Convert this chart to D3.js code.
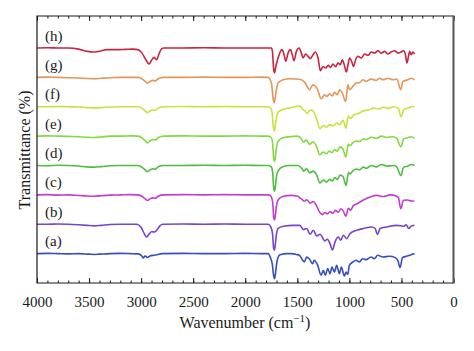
<!DOCTYPE html>
<html>
<head>
<meta charset="utf-8">
<script src="https://cdn.jsdelivr.net/npm/d3@7"></script>
<style>
body { margin: 0; background: #fff; }
svg text { font-family: "Liberation Serif", "Times New Roman", serif; fill: #1a1a1a; }
</style>
</head>
<body>
<svg id="chart" width="474" height="351"></svg>
<script>
// x ticks (cm-1), labels of the samples, and vertical offset of each trace
const majorTicks = [4000, 3500, 3000, 2500, 2000, 1500, 1000, 500, 0];
const minorTicks = d3.range(0, 4001, 100);
const sampleLabels = ["(a)", "(b)", "(c)", "(d)", "(e)", "(f)", "(g)", "(h)"];
const traceOffsets = [11, 22, 33, 44, 55, 66, 77, 88];
const traceColors = ["#3550bd", "#7446cc", "#c43ccf", "#4cbe3e", "#84d93f", "#c9e23c", "#e3955a", "#c9253f"];

// each spectrum: [wavenumber, change of transmittance from its baseline]
const spectrumA = [[4000,0],[3900,0.1],[3800,0],[3700,-0.1],[3600,0],[3500,-0.2],[3450,-0.3],[3400,-0.2],[3300,0],[3200,0.1],[3100,0],[3030,-0.1],[2995,-0.8],[2980,-1.6],[2962,-0.9],[2940,-1.4],[2915,-0.9],[2880,-0.6],[2845,-0.4],[2800,0],[2600,0.1],[2400,0],[2200,0],[2000,0.1],[1850,0],[1780,0],[1760,-1.3],[1740,-4],[1726,-8.6],[1718,-9.4],[1710,-7.5],[1700,-4.2],[1690,-2],[1665,-0.4],[1600,0],[1560,0],[1510,-0.3],[1480,-0.6],[1449,-2.5],[1433,-3.1],[1410,-1.3],[1385,-1.9],[1353,-3.75],[1337,-2.5],[1304,-4.4],[1272,-8.1],[1250,-6.25],[1231,-8.1],[1208,-5.6],[1186,-7.5],[1167,-5],[1144,-6.9],[1122,-4.4],[1096,-7.5],[1077,-5],[1048,-8.4],[1032,-6.9],[1016,-7.8],[1000,-4.4],[968,-3.2],[936,-2.5],[904,-3.1],[872,-1.9],[840,-2.25],[792,-1.25],[760,-1.9],[728,-0.6],[679,-1.25],[615,-1],[560,-1.5],[535,-2.5],[513,-5.2],[490,-1.5],[455,-1],[415,-0.5],[375,0]];
const spectrumB = [[4000,0],[3900,0],[3800,0.1],[3700,0],[3600,-0.2],[3520,-0.4],[3450,-0.6],[3380,-0.4],[3300,-0.1],[3200,0],[3100,0],[3040,0],[3000,-1.2],[2970,-3.5],[2948,-4.75],[2925,-3.8],[2900,-2.8],[2870,-2.9],[2845,-2],[2820,-0.6],[2790,0],[2600,0.1],[2400,0],[2200,0.1],[2000,0],[1850,0],[1780,0],[1755,-1],[1738,-3.5],[1728,-8.8],[1720,-9.75],[1712,-7.8],[1702,-4.2],[1685,-1.5],[1635,-0.75],[1540,-0.4],[1475,-0.4],[1442,-2],[1410,-1.6],[1378,-3.75],[1346,-2.25],[1314,-4.4],[1282,-3.75],[1234,-6.25],[1211,-5.6],[1186,-7.25],[1162,-9.6],[1138,-6.6],[1106,-4.75],[1083,-6],[1058,-4.1],[1026,-5.4],[994,-3.5],[930,-2.25],[866,-1.6],[785,-1],[753,-1.6],[730,-3.8],[705,-1.6],[641,-1],[545,-0.4],[481,-0.75],[455,-0.2],[430,-1.6],[410,-0.8],[375,-0.4]];
const spectrumC = [[4000,0],[3900,0.1],[3800,-0.1],[3700,0],[3600,-0.2],[3520,-0.4],[3450,-0.5],[3380,-0.3],[3300,-0.1],[3200,0],[3100,0.1],[3030,0],[2990,-0.6],[2960,-1.5],[2940,-2.1],[2915,-1.5],[2890,-1.1],[2865,-1.3],[2840,-0.6],[2810,-0.1],[2780,0],[2600,0.1],[2400,0],[2200,0.1],[2000,0],[1850,0],[1775,0],[1752,-0.6],[1737,-2.6],[1726,-8.5],[1718,-9.4],[1710,-7.4],[1700,-4],[1684,-1.9],[1640,-0.6],[1560,-0.2],[1500,-0.4],[1472,-1.25],[1450,-1.9],[1434,-2.4],[1410,-1.8],[1378,-3.1],[1346,-2.5],[1320,-3.75],[1284,-6.6],[1258,-7.4],[1234,-6.6],[1211,-7.1],[1186,-6.2],[1160,-6.9],[1134,-5.8],[1106,-6.5],[1083,-5.2],[1058,-6.1],[1034,-8],[1010,-5],[990,-5.8],[962,-4],[930,-3.4],[865,-1.9],[800,-0.8],[737,-0.2],[673,-0.6],[610,0],[545,-0.5],[528,-1.1],[507,-5.2],[480,-2],[440,-1.9],[416,-2.2],[375,-2.4]];
const spectrumD = [[4000,0],[3900,-0.1],[3800,0.1],[3700,0],[3600,-0.2],[3520,-0.5],[3450,-0.6],[3380,-0.4],[3300,-0.1],[3200,0],[3100,0],[3030,0],[2990,-0.7],[2960,-1.7],[2940,-2.3],[2915,-1.7],[2890,-1.2],[2865,-1.4],[2840,-0.6],[2810,-0.1],[2780,0],[2600,0],[2400,0.1],[2200,0],[2000,0.1],[1850,0],[1780,0],[1750,-0.5],[1737,-2.5],[1726,-8.7],[1718,-9.6],[1710,-7.6],[1700,-4.1],[1685,-2.1],[1640,-0.5],[1575,0],[1495,0],[1460,-0.9],[1438,-2.1],[1412,-1.25],[1380,-2.75],[1348,-2.1],[1316,-3.4],[1282,-6.5],[1250,-5.4],[1220,-6.2],[1190,-5.2],[1165,-5.8],[1140,-4.5],[1115,-5.2],[1090,-3.6],[1060,-4.2],[1032,-7.5],[1008,-2.6],[992,-3.2],[965,-1.9],[930,-1.3],[900,-1.6],[868,-0.6],[835,-1],[790,0],[740,-0.5],[692,0.4],[640,-0.25],[580,0],[545,-0.5],[505,-3.75],[478,-0.6],[440,-0.25],[405,0.4],[375,0]];
const spectrumE = [[4000,0],[3900,0.1],[3800,0],[3700,-0.1],[3600,-0.2],[3520,-0.4],[3450,-0.5],[3380,-0.3],[3300,0],[3200,0],[3100,0.1],[3030,0],[2990,-0.7],[2960,-1.8],[2940,-2.5],[2915,-1.8],[2890,-1.3],[2865,-1.4],[2840,-0.7],[2810,-0.1],[2780,0],[2600,0.1],[2400,0],[2200,0],[2000,0.1],[1850,0],[1780,0],[1750,-0.5],[1737,-2.8],[1726,-8.6],[1718,-9.5],[1710,-7.6],[1700,-4.2],[1685,-2],[1640,-0.6],[1575,-0.2],[1495,0],[1462,-1],[1440,-2.3],[1415,-1.4],[1382,-3],[1350,-2.2],[1318,-3.6],[1284,-7],[1252,-6],[1222,-6.6],[1192,-5.6],[1166,-6.2],[1142,-5],[1116,-5.6],[1092,-4],[1062,-4.8],[1034,-7.8],[1010,-3],[994,-3.6],[966,-2.4],[932,-1.8],[900,-2],[868,-1],[835,-1.3],[790,-0.4],[740,-0.8],[692,0],[640,-0.5],[580,-0.2],[545,-0.8],[505,-4],[478,-1],[440,-0.6],[405,-0.2],[375,-0.8]];
const spectrumF = [[4000,0],[3900,0],[3800,0.1],[3700,0],[3600,-0.1],[3520,-0.3],[3450,-0.4],[3380,-0.3],[3300,-0.1],[3200,0],[3100,0],[3030,0],[2990,-0.6],[2960,-1.6],[2940,-2.2],[2915,-1.6],[2890,-1.2],[2865,-1.3],[2840,-0.6],[2810,-0.1],[2780,0],[2600,0.1],[2400,0],[2200,0.1],[2000,0],[1850,0],[1775,0],[1756,-0.5],[1740,-3],[1728,-8.3],[1720,-9.1],[1712,-7.3],[1702,-4.4],[1683,-2],[1635,-1],[1570,-0.4],[1474,0.25],[1449,-1],[1426,-1.6],[1404,-2.5],[1385,-1.5],[1362,-1.2],[1330,-2.9],[1314,-4.6],[1282,-8.2],[1250,-7],[1218,-7.6],[1186,-6.7],[1154,-7.1],[1122,-6],[1096,-6.7],[1058,-5.1],[1034,-8],[1010,-3.5],[990,-4.4],[955,-3],[913,-2.5],[865,-1.5],[817,-1.2],[769,-0.5],[721,-0.8],[673,-0.2],[625,-0.6],[577,0],[529,-0.6],[505,-3.8],[474,-0.8],[433,-0.5],[395,0.2],[375,0]];
const spectrumG = [[4000,0],[3900,0.1],[3800,0],[3700,-0.1],[3600,-0.2],[3520,-0.4],[3450,-0.5],[3380,-0.3],[3300,-0.1],[3200,0],[3100,0],[3030,0],[2990,-0.6],[2960,-1.5],[2940,-2.1],[2915,-1.5],[2890,-1.1],[2865,-1.3],[2840,-0.6],[2810,-0.1],[2780,0],[2600,0],[2400,0.1],[2200,0],[2000,0],[1850,0.1],[1781,0],[1749,-2.1],[1730,-8.6],[1722,-9.6],[1714,-8],[1706,-5.9],[1685,-2.1],[1637,-0.9],[1573,-0.5],[1510,-0.6],[1462,-0.9],[1430,-1.8],[1382,-4.6],[1350,-2.8],[1311,-4],[1270,-8],[1238,-6.5],[1215,-7.1],[1190,-6.1],[1164,-6.9],[1142,-5.6],[1116,-6.5],[1094,-4.6],[1068,-5.9],[1036,-9],[1014,-2.8],[998,-4.6],[966,-3.4],[934,-2.1],[902,-1.9],[870,-0.9],[838,-1.5],[790,-0.6],[742,-1.1],[710,-0.3],[678,-0.9],[630,-0.3],[582,-0.9],[544,-0.6],[507,-4.6],[486,-1.5],[438,-0.9],[407,-0.3],[375,-0.9]];
const spectrumH = [[4000,0],[3900,0.1],[3800,0],[3700,0],[3600,-0.4],[3520,-1.2],[3460,-1.5],[3400,-1.2],[3330,-0.6],[3250,-0.6],[3150,-0.5],[3080,-0.4],[3032,-0.6],[2990,-2],[2960,-4],[2923,-6],[2900,-4.6],[2875,-3.5],[2852,-4.4],[2830,-2.4],[2804,-0.3],[2780,0],[2600,0],[2400,0.1],[2200,0],[2000,0],[1957,0],[1749,0],[1739,-1.25],[1726,-8.4],[1718,-9.3],[1708,-7.2],[1694,-5],[1669,-1.9],[1647,-0.6],[1627,-2.5],[1611,-5],[1589,-1.9],[1567,-0.6],[1548,-2.5],[1532,-4.75],[1509,-1.25],[1484,0],[1461,-1.9],[1445,-3.75],[1420,-2.25],[1397,-3.1],[1375,-4],[1349,-2.5],[1327,-1.5],[1301,-3.75],[1279,-8.5],[1253,-6.9],[1228,-7.5],[1202,-6.5],[1180,-7.25],[1157,-6],[1132,-7],[1109,-5.6],[1087,-6.25],[1068,-4.4],[1045,-6.9],[1029,-9],[1010,-5.6],[998,-3.75],[978,-5],[960,-6.9],[940,-4.4],[918,-3.1],[886,-3.75],[853,-2.25],[821,-2.75],[789,-1.5],[758,-1.9],[725,-1],[694,-1.9],[661,-1.25],[630,-2.25],[598,-1.5],[566,-1],[534,-1.9],[502,-1.5],[480,-1],[461,-2.5],[448,-5.6],[432,-3.1],[422,-1.25],[406,-2.5],[390,-1.5],[374,-2.25]];

const spectra = [spectrumA, spectrumB, spectrumC, spectrumD, spectrumE, spectrumF, spectrumG, spectrumH];

const svg = d3.select("#chart");
const plotLeft = 37, plotRight = 453.5, plotTop = 16, plotBottom = 283;

let xScale = d3.scaleLinear().domain([4000, 0]).range([plotLeft, plotRight]);
let yScale = d3.scaleLinear().domain([0, 100]).range([plotBottom, plotTop]);

// traces
let line = d3.line()
    .x(d => xScale(d.wn))
    .y(d => yScale(d.t))
    .curve(d3.curveMonotoneX);

spectra.forEach(function(spec, i) {
    let pts = spec.map(p => ({ wn: p[0], t: traceOffsets[i] + p[1] }));
    svg.append("path")
        .attr("d", line(pts))
        .attr("fill", "none")
        .attr("stroke", traceColors[i])
        .attr("stroke-width", 1.6)
        .attr("stroke-linejoin", "round");

    svg.append("text")
        .attr("x", 45)
        .attr("y", yScale(traceOffsets[i]) - 7.5)
        .text(sampleLabels[i])
        .style("font-size", "15px");
});

// ticks, bottom with labels, top without
function tickAxis(g, axisFn, values, size, withLabels) {
    let ax = axisFn(xScale).tickValues(values).tickSizeInner(-size).tickSizeOuter(0);
    if (withLabels) ax.tickPadding(13).tickFormat(d3.format("d"));
    else ax.tickFormat("");
    g.call(ax);
    g.select(".domain").remove();
    g.selectAll("line").attr("stroke", "#1a1a1a");
    g.selectAll("text")
        .style("font-family", "'Liberation Serif', 'Times New Roman', serif")
        .style("font-size", "15px")
        .attr("fill", "#1a1a1a");
}
tickAxis(svg.append("g").attr("transform", "translate(0," + plotBottom + ")"), d3.axisBottom, minorTicks, 2.5, false);
tickAxis(svg.append("g").attr("transform", "translate(0," + plotBottom + ")"), d3.axisBottom, majorTicks, 5, true);
tickAxis(svg.append("g").attr("transform", "translate(0," + plotTop + ")"), d3.axisTop, minorTicks, 2.5, false);
tickAxis(svg.append("g").attr("transform", "translate(0," + plotTop + ")"), d3.axisTop, majorTicks, 5, false);

// frame
svg.append("path")
    .attr("d", "M" + plotRight + "," + plotTop + "H" + plotLeft + "V" + plotBottom + "H" + plotRight)
    .attr("fill", "none")
    .attr("stroke", "#1a1a1a")
    .attr("stroke-width", 1.2);
svg.append("line")
    .attr("x1", plotRight).attr("x2", plotRight)
    .attr("y1", plotTop - 0.6).attr("y2", plotBottom + 0.6)
    .attr("stroke", "#555")
    .attr("stroke-width", 2);

// axis titles
let xTitle = svg.append("text")
    .attr("x", 245)
    .attr("y", 328)
    .style("text-anchor", "middle")
    .style("font-size", "16px");
xTitle.append("tspan").text("Wavenumber (cm");
xTitle.append("tspan").text("\u22121").attr("dy", -6).style("font-size", "11px");
xTitle.append("tspan").text(")").attr("dy", 6);

svg.append("text")
    .attr("transform", "translate(30,150) rotate(-90)")
    .style("text-anchor", "middle")
    .style("font-size", "16px")
    .text("Transmittance (%)");
</script>
</body>
</html>
